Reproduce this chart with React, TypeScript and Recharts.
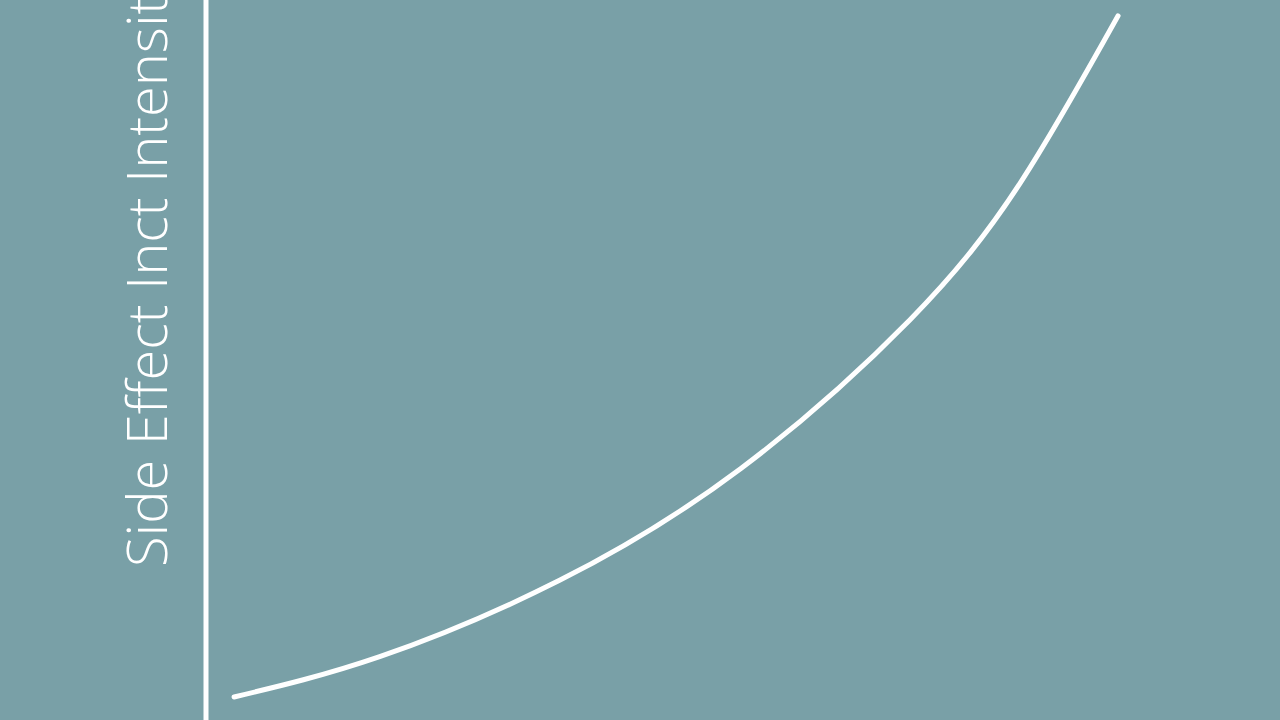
import React from "react";
import { LineChart, Line, XAxis, YAxis } from "recharts";

const dosage = [2.7, 16.7, 34.0, 51.4, 67.7, 78.3, 87.7];
const intensity = [3.2, 8.8, 19.4, 34.9, 55.6, 74.6, 97.8];
const yAxisTitle = "Side Effect Inct Intensity";

const data = dosage.map((d, i) => ({ dosage: d, intensity: intensity[i] }));

const BG = "#79a0a7";

const AxisTitle = () => (
  <text
    x={167}
    y={567}
    transform="rotate(-90, 167, 567)"
    textAnchor="start"
    fill="#ffffff"
    fontFamily="'Open Sans', sans-serif"
    fontWeight={300}
    fontSize={56}
  >
    {yAxisTitle}
  </text>
);

export default function App() {
  return (
    <div
      style={{
        position: "fixed",
        top: 0,
        left: 0,
        width: 1280,
        height: 720,
        background: BG,
        overflow: "hidden",
      }}
    >
      <LineChart
        width={1280}
        height={720}
        data={data}
        margin={{ top: 0, right: 34, bottom: 0, left: 0 }}
      >
        <XAxis type="number" dataKey="dosage" domain={[0, 100]} hide />
        <YAxis
          type="number"
          domain={[0, 100]}
          width={206}
          tick={false}
          tickLine={false}
          axisLine={{ stroke: "#ffffff", strokeWidth: 5 }}
          label={<AxisTitle />}
        />
        <Line
          type="natural"
          dataKey="intensity"
          stroke="#ffffff"
          strokeWidth={5}
          strokeLinecap="round"
          dot={false}
          activeDot={false}
          isAnimationActive={false}
        />
      </LineChart>
    </div>
  );
}
